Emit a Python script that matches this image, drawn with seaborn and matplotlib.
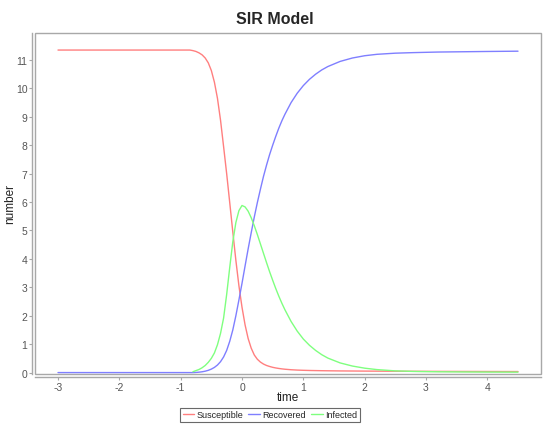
import matplotlib
matplotlib.use("Agg")
import pandas as pd
import seaborn as sns
import matplotlib.pyplot as plt

# values
time = [-3.0, -0.85,
        -0.8, -0.75, -0.7, -0.65, -0.6, -0.55, -0.5, -0.45, -0.4, -0.35,
        -0.3, -0.25, -0.2, -0.15, -0.1, -0.05, 0.0, 0.05, 0.1, 0.15,
        0.2, 0.25, 0.3, 0.35, 0.4, 0.45, 0.5, 0.55, 0.6, 0.65, 0.7,
        0.8, 0.9, 1.0, 1.1, 1.2, 1.3, 1.4, 1.6, 1.8, 2.0, 2.2, 2.5, 2.8, 3.2, 3.6, 4.0, 4.5]

susceptible = [11.35, 11.35,
               11.33, 11.3, 11.25, 11.18, 11.07, 10.9, 10.63, 10.22, 9.65, 8.88,
               7.95, 7.0, 5.98, 4.95, 3.95, 3.05, 2.3, 1.68, 1.2, 0.86,
               0.62, 0.47, 0.37, 0.3, 0.25, 0.215, 0.185, 0.163, 0.145, 0.13, 0.118,
               0.1, 0.088, 0.08, 0.074, 0.07, 0.066, 0.063, 0.058, 0.055, 0.052, 0.05,
               0.047, 0.045, 0.042, 0.04, 0.038, 0.036]

recovered = [0.0, 0.0,
             0.0, 0.005, 0.014, 0.028, 0.049, 0.079, 0.122, 0.182, 0.266, 0.384,
             0.55, 0.78, 1.1, 1.5, 2.0, 2.56, 3.14, 3.75, 4.35, 4.92,
             5.47, 5.98, 6.45, 6.9, 7.3, 7.67, 8.0, 8.31, 8.6, 8.86, 9.09,
             9.5, 9.83, 10.1, 10.32, 10.5, 10.65, 10.77, 10.95, 11.07, 11.15, 11.2,
             11.24, 11.26, 11.28, 11.29, 11.3, 11.31]

infected = [None, None,
            0.03, 0.07, 0.11, 0.17, 0.25, 0.36, 0.5, 0.69, 0.98, 1.38,
            1.92, 2.75, 3.7, 4.6, 5.28, 5.7, 5.88, 5.83, 5.68, 5.45,
            5.17, 4.86, 4.53, 4.2, 3.87, 3.55, 3.25, 2.96, 2.69, 2.44, 2.21,
            1.8, 1.46, 1.18, 0.96, 0.78, 0.63, 0.51, 0.34, 0.23, 0.155, 0.105,
            0.06, 0.04, 0.028, 0.022, 0.018, 0.015]

series_names = ["Susceptible", "Recovered", "Infected"]
series_colors = ["#ff7f7f", "#7f7fff", "#7fff7f"]

rows = []
for name, vals in zip(series_names, [susceptible, recovered, infected]):
    for t, v in zip(time, vals):
        if v is not None:
            rows.append((t, v, name))
df = pd.DataFrame(rows, columns=["time", "number", "series"])

sns.set_style("white")
plt.rcParams["font.family"] = ["Liberation Sans", "DejaVu Sans"]
plt.rcParams["axes.unicode_minus"] = False

fig = plt.figure(figsize=(5.5, 4.31), dpi=100)
ax = fig.add_axes([35 / 550, 1 - 375 / 431, 506 / 550, 341 / 431])

sns.lineplot(data=df, x="time", y="number", hue="series", hue_order=series_names,
             palette=series_colors, estimator=None, sort=True, linewidth=1.0, ax=ax)

ax.set_xlim(-3.375, 4.875)
ax.set_ylim(-0.05, 11.95)
ax.set_xticks(range(-3, 5))
ax.set_yticks(range(0, 12))

gray = "#a8a8a8"
ax.patch.set_edgecolor(gray)
ax.patch.set_linewidth(1.0)
for side in ["top", "right"]:
    ax.spines[side].set_visible(False)
for side in ["left", "bottom"]:
    ax.spines[side].set_color(gray)
    ax.spines[side].set_linewidth(1.0)
    ax.spines[side].set_position(("outward", 2))
ax.tick_params(axis="both", length=2, width=0.8, color=gray, labelsize=7.5,
               labelcolor="#555555", pad=1.5, direction="out", bottom=True, left=True)

ax.set_xlabel("time", fontsize=8.5, color="#222222")
ax.set_ylabel("number", fontsize=8.5, color="#222222")
ax.xaxis.set_label_coords(0.5, -(398 - 375) / 341)
ax.xaxis.label.set_va("center")
ax.yaxis.set_label_coords(-(35 - 10) / 506, 0.5)
ax.yaxis.label.set_va("center")
fig.suptitle("SIR Model", x=0.5, y=1 - 20 / 431, va="center", fontsize=11.5, fontweight="bold")

sns.move_legend(ax, "center", bbox_to_anchor=(270 / 550, 1 - 416 / 431),
                bbox_transform=fig.transFigure, ncol=3, title=None, frameon=True,
                fontsize=6.5, handlelength=1.3, handletextpad=0.3, columnspacing=0.5,
                borderpad=0.25, fancybox=False, edgecolor="#444444")
ax.get_legend().get_frame().set_linewidth(0.8)

fig.savefig("out.png", dpi=100)
